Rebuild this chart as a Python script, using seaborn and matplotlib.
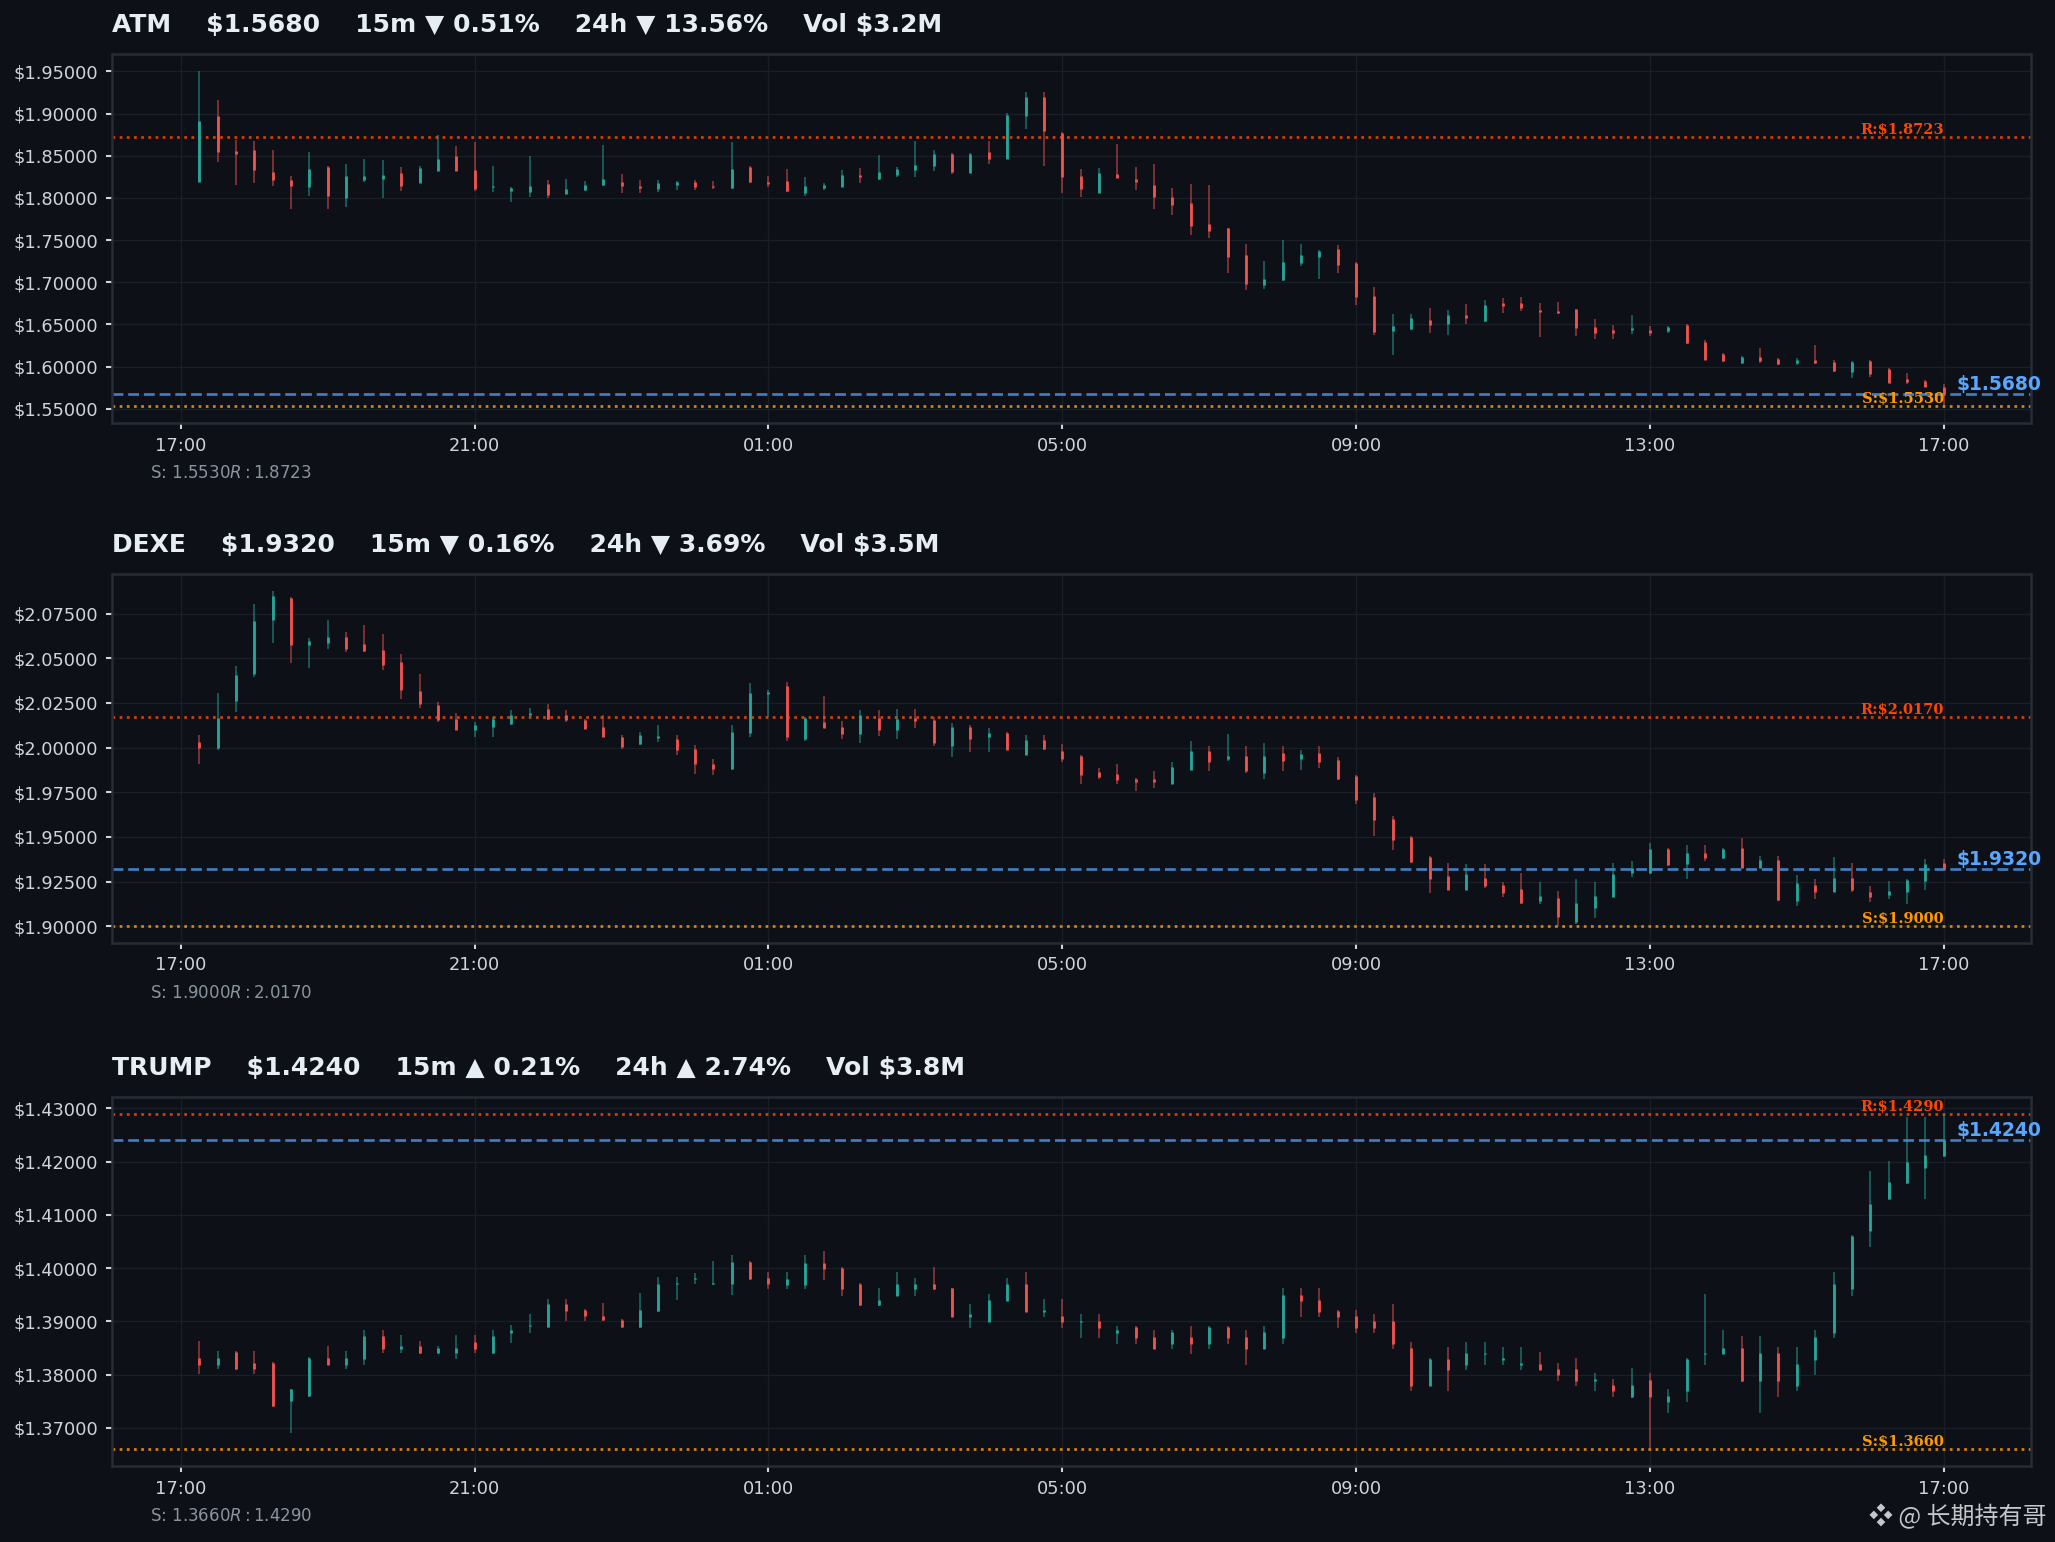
import numpy as np
import pandas as pd
import matplotlib
matplotlib.use("Agg")
import matplotlib.pyplot as plt
import matplotlib.dates as mdates
from matplotlib.ticker import FuncFormatter
import seaborn as sns

# ---------------- data ----------------
times = pd.date_range("2025-01-01 17:15", periods=96, freq="15min")

atm_open = [1.819, 1.8974, 1.8558, 1.857, 1.8309, 1.8214, 1.8135, 1.8372,
            1.8004, 1.8214, 1.823, 1.8297, 1.8179, 1.8321, 1.85, 1.8333,
            1.8135, 1.8084, 1.8072, 1.8167, 1.8052, 1.8095, 1.8151, 1.819,
            1.8143, 1.8103, 1.8159, 1.819, 1.8143, 1.8123, 1.8372, 1.819,
            1.8206, 1.8056, 1.8123, 1.8135, 1.8265, 1.823, 1.8277, 1.8336,
            1.8383, 1.8526, 1.8301, 1.855, 1.8466, 1.8976, 1.92, 1.8774,
            1.8265, 1.8064, 1.8289, 1.823, 1.8159, 1.8005, 1.7945, 1.7685,
            1.764, 1.7318, 1.6963, 1.7022, 1.7223, 1.7294, 1.7389, 1.7223,
            1.6832, 1.6418, 1.6442, 1.6548, 1.6501, 1.6608, 1.6536, 1.675,
            1.675, 1.6667, 1.6655, 1.6679, 1.6465, 1.643, 1.643, 1.643,
            1.6418, 1.6489, 1.6288, 1.6146, 1.6039, 1.611, 1.6087, 1.6039,
            1.6075, 1.6051, 1.5933, 1.6063, 1.5968, 1.585, 1.5826, 1.576]
atm_high = [1.9508, 1.9164, 1.8689, 1.8677, 1.857, 1.8262, 1.8546, 1.838,
            1.8404, 1.8463, 1.8452, 1.8368, 1.838, 1.8744, 1.8618, 1.8665,
            1.838, 1.8131, 1.85, 1.8214, 1.8226, 1.8202, 1.863, 1.8285,
            1.8214, 1.8214, 1.8202, 1.8214, 1.8202, 1.8665, 1.838, 1.8262,
            1.8348, 1.8253, 1.8182, 1.8336, 1.836, 1.8514, 1.8372, 1.868,
            1.8573, 1.8538, 1.8538, 1.868, 1.9011, 1.926, 1.926, 1.8786,
            1.8348, 1.836, 1.8644, 1.8372, 1.8407, 1.8123, 1.817, 1.8159,
            1.7645, 1.7448, 1.7247, 1.7496, 1.7448, 1.7377, 1.7436, 1.7235,
            1.6939, 1.6619, 1.6619, 1.669, 1.6667, 1.6738, 1.6785, 1.6809,
            1.6821, 1.675, 1.6762, 1.6682, 1.656, 1.6489, 1.6608, 1.6477,
            1.6477, 1.6501, 1.6311, 1.6158, 1.6122, 1.6217, 1.6098, 1.6098,
            1.6252, 1.6075, 1.6063, 1.6075, 1.598, 1.5921, 1.5838, 1.579]
atm_low = [1.819, 1.8428, 1.8159, 1.8171, 1.8143, 1.7874, 1.8024, 1.7874,
           1.7898, 1.8183, 1.8004, 1.8084, 1.8171, 1.8321, 1.832, 1.8084,
           1.8072, 1.7953, 1.8012, 1.80, 1.8048, 1.8084, 1.8143, 1.806,
           1.806, 1.8072, 1.8095, 1.8095, 1.8107, 1.8107, 1.8179, 1.8131,
           1.8068, 1.8028, 1.8092, 1.8135, 1.8182, 1.8218, 1.8253, 1.8253,
           1.8324, 1.8289, 1.8301, 1.8407, 1.8466, 1.8822, 1.8384, 1.8064,
           1.8005, 1.8064, 1.8238, 1.8088, 1.7863, 1.7792, 1.7555, 1.7519,
           1.7105, 1.6904, 1.6915, 1.7018, 1.7188, 1.7034, 1.7105, 1.6726,
           1.6371, 1.6134, 1.643, 1.6394, 1.6371, 1.6501, 1.6532, 1.6631,
           1.6655, 1.6347, 1.6619, 1.6359, 1.6323, 1.6323, 1.6383, 1.6359,
           1.6394, 1.6264, 1.6072, 1.606, 1.6027, 1.6039, 1.6015, 1.6015,
           1.6027, 1.5933, 1.5861, 1.5873, 1.58, 1.579, 1.5752, 1.553]
atm_close = [1.8914, 1.8546, 1.8515, 1.8333, 1.8214, 1.8143, 1.8345, 1.8024,
             1.8262, 1.8262, 1.8277, 1.8143, 1.836, 1.8463, 1.8325, 1.8103,
             1.8143, 1.8115, 1.8143, 1.8036, 1.8111, 1.8159, 1.8222, 1.8143,
             1.8123, 1.8171, 1.819, 1.8131, 1.8135, 1.8345, 1.819, 1.8167,
             1.808, 1.8147, 1.8159, 1.8277, 1.8253, 1.8313, 1.8348, 1.8395,
             1.8526, 1.8313, 1.8526, 1.8466, 1.8987, 1.92, 1.879, 1.8253,
             1.8111, 1.8301, 1.8242, 1.8194, 1.8005, 1.791, 1.7661, 1.7602,
             1.7294, 1.6975, 1.7034, 1.7235, 1.7318, 1.7365, 1.72, 1.682,
             1.6406, 1.6477, 1.6572, 1.6489, 1.6608, 1.6572, 1.6726, 1.6714,
             1.669, 1.6643, 1.6631, 1.6454, 1.6394, 1.6394, 1.6454, 1.6394,
             1.6465, 1.6276, 1.6075, 1.6063, 1.611, 1.6063, 1.6027, 1.6075,
             1.6039, 1.5944, 1.6051, 1.5909, 1.5802, 1.5814, 1.5755, 1.568]

dexe_open = [2.0031, 1.9998, 2.0263, 2.0414, 2.0716, 2.0839, 2.0577, 2.0588,
             2.0621, 2.0582, 2.0549, 2.0482, 2.032, 2.0241, 2.0163, 2.0096,
             2.0113, 2.0135, 2.018, 2.0219, 2.018, 2.0157, 2.0118, 2.0062,
             2.0023, 2.0057, 2.0051, 1.999, 1.9911, 1.9878, 2.008, 2.0303,
             2.0345, 2.0049, 2.0144, 2.0116, 2.0077, 2.0166, 2.0099, 2.0166,
             2.0155, 2.001, 2.0116, 2.006, 2.0082, 1.9959, 2.0043, 1.9982,
             1.9954, 1.9864, 1.9853, 1.9825, 1.9825, 1.9797, 1.9876, 1.9982,
             1.9937, 1.9954, 1.9859, 1.9971, 1.9937, 1.9971, 1.9931, 1.9842,
             1.9725, 1.9601, 1.9501, 1.9389, 1.9283, 1.9205, 1.9272, 1.9232,
             1.921, 1.9143, 1.916, 1.9026, 1.9104, 1.9165, 1.930, 1.930,
             1.9434, 1.935, 1.9411, 1.9383, 1.9439, 1.9328, 1.9372, 1.9143,
             1.9232, 1.9193, 1.9272, 1.9193, 1.9177, 1.9193, 1.9255, 1.9351]
dexe_high = [2.0068, 2.0308, 2.0459, 2.0806, 2.0879, 2.0845, 2.0616, 2.0716,
             2.0649, 2.0688, 2.0638, 2.0526, 2.0414, 2.0258, 2.0196, 2.0146,
             2.0174, 2.0213, 2.0224, 2.0247, 2.0208, 2.0163, 2.0185, 2.0068,
             2.0085, 2.0124, 2.0073, 2.0017, 1.9934, 2.0124, 2.0362, 2.0325,
             2.0368, 2.0172, 2.0289, 2.0149, 2.0211, 2.0211, 2.0217, 2.0217,
             2.0172, 2.0138, 2.0127, 2.011, 2.0088, 2.0071, 2.0071, 2.0021,
             1.9959, 1.9887, 1.9909, 1.9831, 1.987, 1.992, 2.0038, 2.001,
             2.0077, 2.001, 2.0026, 2.001, 1.9987, 2.001, 1.9948, 1.9848,
             1.9747, 1.9618, 1.9506, 1.9392, 1.9355, 1.935, 1.935, 1.9249,
             1.93, 1.9249, 1.9199, 1.9266, 1.9249, 1.9355, 1.9367, 1.9467,
             1.9439, 1.9456, 1.9456, 1.9439, 1.9495, 1.9395, 1.9395, 1.9288,
             1.9266, 1.9389, 1.9355, 1.9227, 1.9255, 1.9266, 1.9378, 1.9378]
dexe_low = [1.9906, 1.9986, 2.0202, 2.0398, 2.0588, 2.0476, 2.0448, 2.0554,
            2.0538, 2.0538, 2.0437, 2.0275, 2.0224, 2.0146, 2.0096, 2.0057,
            2.0062, 2.0124, 2.0174, 2.0157, 2.0146, 2.0105, 2.0057, 1.9995,
            2.0012, 2.0034, 1.9956, 1.9855, 1.9844, 1.9872, 2.006, 2.0174,
            2.0038, 2.0038, 2.0108, 2.0049, 2.0026, 2.0066, 2.0049, 2.011,
            2.001, 1.9948, 1.9976, 1.9976, 1.9985, 1.9957, 1.9987, 1.992,
            1.9797, 1.9825, 1.9797, 1.9758, 1.9775, 1.9795, 1.9874, 1.987,
            1.9926, 1.9859, 1.9825, 1.987, 1.9876, 1.9887, 1.982, 1.9685,
            1.9506, 1.9428, 1.9355, 1.9188, 1.9203, 1.9203, 1.9216, 1.9165,
            1.9126, 1.9126, 1.9001, 1.9014, 1.9048, 1.9163, 1.9277, 1.9294,
            1.9339, 1.9266, 1.9367, 1.9378, 1.9326, 1.9326, 1.9143, 1.9115,
            1.9154, 1.9191, 1.9193, 1.9137, 1.9154, 1.9126, 1.9205, 1.932]
dexe_close = [1.9998, 2.0167, 2.0409, 2.0711, 2.0851, 2.0577, 2.0599, 2.0621,
              2.0554, 2.0543, 2.0465, 2.0325, 2.0247, 2.0152, 2.01, 2.0124,
              2.0163, 2.0185, 2.0196, 2.0163, 2.0152, 2.0107, 2.0062, 2.0001,
              2.0068, 2.0062, 1.9984, 1.9906, 1.9883, 2.009, 2.0306, 2.0314,
              2.006, 2.0166, 2.011, 2.0077, 2.0183, 2.0099, 2.0161, 2.0149,
              2.0026, 2.0116, 2.0049, 2.0082, 1.9987, 2.0043, 1.9993, 1.9937,
              1.9848, 1.9836, 1.982, 1.9808, 1.9808, 1.9892, 1.9982, 1.992,
              1.9954, 1.987, 1.9954, 1.9926, 1.9965, 1.992, 1.9825, 1.9708,
              1.9596, 1.9484, 1.9361, 1.9266, 1.9205, 1.9294, 1.9227, 1.9188,
              1.9132, 1.9171, 1.9053, 1.9132, 1.9171, 1.9294, 1.9328, 1.9434,
              1.9344, 1.9411, 1.9383, 1.9434, 1.9328, 1.9372, 1.9149, 1.9244,
              1.9193, 1.9272, 1.9205, 1.9165, 1.9199, 1.926, 1.935, 1.932]

trump_open = [1.3831, 1.3819, 1.3842, 1.3821, 1.3821, 1.3751, 1.376, 1.3831,
              1.3819, 1.3829, 1.3872, 1.3849, 1.3853, 1.384, 1.384, 1.3861,
              1.384, 1.3879, 1.3891, 1.3889, 1.3932, 1.3921, 1.3911, 1.3902,
              1.3889, 1.3919, 1.397, 1.3979, 1.397, 1.397, 1.4011, 1.3981,
              1.3969, 1.3969, 1.401, 1.4001, 1.3971, 1.393, 1.3948, 1.396,
              1.3971, 1.3962, 1.3909, 1.3899, 1.3939, 1.3971, 1.3918, 1.3911,
              1.3899, 1.3901, 1.3879, 1.389, 1.3871, 1.3858, 1.3871, 1.3858,
              1.389, 1.3871, 1.3849, 1.3869, 1.395, 1.3941, 1.392, 1.3911,
              1.3901, 1.3901, 1.3851, 1.3779, 1.383, 1.3819, 1.3839, 1.3828,
              1.3819, 1.382, 1.3811, 1.3811, 1.3788, 1.3781, 1.3758, 1.379,
              1.3749, 1.377, 1.3839, 1.3839, 1.3851, 1.3788, 1.3841, 1.3779,
              1.3828, 1.3879, 1.396, 1.4069, 1.4129, 1.416, 1.4189, 1.421]
trump_high = [1.3863, 1.3844, 1.3844, 1.3844, 1.3823, 1.3774, 1.3833, 1.3853,
              1.3844, 1.3883, 1.3883, 1.3874, 1.3863, 1.3853, 1.3874, 1.3874,
              1.3883, 1.3893, 1.3913, 1.3943, 1.3943, 1.3923, 1.3934, 1.3904,
              1.3953, 1.3983, 1.3983, 1.399, 1.4013, 1.4024, 1.4013, 1.3993,
              1.3993, 1.4024, 1.4033, 1.4003, 1.3973, 1.3963, 1.3993, 1.3982,
              1.4003, 1.3963, 1.3933, 1.3952, 1.3982, 1.3993, 1.3943, 1.3943,
              1.3913, 1.3913, 1.3892, 1.3892, 1.3883, 1.3883, 1.3892, 1.3892,
              1.3892, 1.3883, 1.3892, 1.3963, 1.3963, 1.3963, 1.3922, 1.3922,
              1.3913, 1.3933, 1.3862, 1.3832, 1.3852, 1.3862, 1.3862, 1.3852,
              1.3852, 1.3843, 1.3822, 1.3832, 1.3804, 1.3792, 1.3813, 1.3804,
              1.3773, 1.3832, 1.3952, 1.3883, 1.3873, 1.3873, 1.3852, 1.3852,
              1.3883, 1.3993, 1.4063, 1.4183, 1.4202, 1.4283, 1.4283, 1.429]
trump_low = [1.3801, 1.381, 1.3809, 1.3801, 1.3739, 1.369, 1.3758, 1.3818,
             1.381, 1.3819, 1.384, 1.384, 1.3839, 1.3839, 1.3829, 1.384,
             1.3839, 1.3859, 1.3879, 1.3888, 1.39, 1.39, 1.39, 1.3888,
             1.3888, 1.3918, 1.394, 1.397, 1.3969, 1.3949, 1.3978, 1.396,
             1.396, 1.396, 1.3978, 1.3948, 1.3929, 1.3929, 1.3947, 1.3948,
             1.3959, 1.3908, 1.3888, 1.3898, 1.3938, 1.3917, 1.3909, 1.3888,
             1.3869, 1.3869, 1.3858, 1.3858, 1.3848, 1.3849, 1.3839, 1.3849,
             1.3858, 1.3819, 1.3848, 1.3858, 1.3909, 1.3909, 1.3888, 1.3879,
             1.3879, 1.3849, 1.377, 1.3778, 1.377, 1.3809, 1.3819, 1.3819,
             1.3809, 1.3808, 1.3788, 1.3779, 1.377, 1.3758, 1.3757, 1.366,
             1.3728, 1.3749, 1.3819, 1.3838, 1.3787, 1.3728, 1.3758, 1.377,
             1.38, 1.3869, 1.3948, 1.4039, 1.4128, 1.4159, 1.4129, 1.4208]
trump_close = [1.3819, 1.3831, 1.381, 1.381, 1.3741, 1.3773, 1.3831, 1.3819,
               1.3831, 1.3872, 1.3849, 1.3853, 1.384, 1.3851, 1.3851, 1.3849,
               1.3872, 1.3883, 1.3893, 1.3932, 1.3919, 1.391, 1.3902, 1.3889,
               1.3921, 1.3971, 1.3973, 1.3981, 1.3973, 1.4011, 1.3979, 1.397,
               1.398, 1.401, 1.3999, 1.396, 1.393, 1.3941, 1.3971, 1.3971,
               1.396, 1.3909, 1.3913, 1.3941, 1.3971, 1.3918, 1.3922, 1.3899,
               1.3901, 1.3888, 1.3883, 1.3869, 1.3849, 1.3881, 1.3858, 1.389,
               1.3869, 1.3849, 1.3881, 1.395, 1.3939, 1.3918, 1.3909, 1.3888,
               1.3888, 1.3858, 1.3779, 1.383, 1.3809, 1.3841, 1.3841, 1.3832,
               1.3822, 1.3809, 1.38, 1.3788, 1.3792, 1.377, 1.3781, 1.3758,
               1.376, 1.383, 1.3841, 1.3851, 1.3788, 1.3841, 1.3788, 1.382,
               1.3871, 1.3971, 1.4061, 1.4121, 1.4161, 1.42, 1.4212, 1.424]

symbols = ["ATM", "DEXE", "TRUMP"]
headers = ["ATM    $1.5680    15m \u25bc 0.51%    24h \u25bc 13.56%    Vol $3.2M",
           "DEXE    $1.9320    15m \u25bc 0.16%    24h \u25bc 3.69%    Vol $3.5M",
           "TRUMP    $1.4240    15m \u25b2 0.21%    24h \u25b2 2.74%    Vol $3.8M"]
prices = [1.5680, 1.9320, 1.4240]
supports = [1.5530, 1.9000, 1.3660]
resistances = [1.8723, 2.0170, 1.4290]
ohlc = [(atm_open, atm_high, atm_low, atm_close),
        (dexe_open, dexe_high, dexe_low, dexe_close),
        (trump_open, trump_high, trump_low, trump_close)]
watermark = "\u2756 @ 长期持有哥"

# ---------------- style ----------------
BG = "#0d1117"
GREEN = "#26a69a"
RED = "#ef5350"
sns.set_theme(style="dark", rc={
    "figure.facecolor": BG, "axes.facecolor": BG, "savefig.facecolor": BG,
    "axes.edgecolor": "#262c36", "text.color": "#e6edf3",
    "xtick.color": "#d0d4da", "ytick.color": "#d0d4da",
})
plt.rcParams["font.family"] = ["DejaVu Sans", "Noto Sans CJK SC"]

fig = plt.figure(figsize=(13.7, 10.28), dpi=150)
fig.patch.set_facecolor(BG)

bottoms = [0.7257, 0.3885, 0.0493]
x = mdates.date2num(times)

for i in range(3):
    ax = fig.add_axes([0.0545, bottoms[i], 0.9338, 0.2393])
    ax.set_facecolor(BG)
    o, h, l, c = (np.asarray(a, dtype=float) for a in ohlc[i])
    up = c >= o
    cols = np.where(up, GREEN, RED)
    span = h.max() - l.min()
    lo = np.minimum(o, c)
    hi = np.maximum(o, c)
    mid = (lo + hi) / 2
    minb = span * 0.004
    blo = np.where(hi - lo < minb, mid - minb / 2, lo)
    bhi = np.where(hi - lo < minb, mid + minb / 2, hi)

    ax.vlines(x, l, h, colors=cols, linewidth=0.75, alpha=0.6, zorder=3)
    ax.vlines(x, blo, bhi, colors=cols, linewidth=1.35, alpha=1.0, zorder=4)
    ax.xaxis_date()

    ax.axhline(resistances[i], color="#ff4500", ls=":", lw=1.3, alpha=0.85, zorder=2)
    ax.axhline(supports[i], color="#ff9800", ls=":", lw=1.3, alpha=0.85, zorder=2)
    ax.axhline(prices[i], color="#4a90e2", ls=(0, (4, 1.8)), lw=1.3, alpha=0.85, zorder=2)

    ax.text(x[-1], resistances[i], f"R:${resistances[i]:.4f}", ha="right", va="bottom",
            color="#ff4500", fontsize=7, fontweight="bold", family="DejaVu Serif",
            parse_math=False, zorder=5)
    ax.text(x[-1], supports[i], f"S:${supports[i]:.4f}", ha="right", va="bottom",
            color="#ff9800", fontsize=7, fontweight="bold", family="DejaVu Serif",
            parse_math=False, zorder=5)
    ax.text(x[-1] + 0.18 / 24, prices[i], f"${prices[i]:.4f}", ha="left", va="bottom",
            color="#58a6ff", fontsize=9, fontweight="bold", parse_math=False, zorder=5)

    ax.text(0, 1 + 29 / 369, headers[i], transform=ax.transAxes, fontsize=12,
            fontweight="bold", color="#e6edf3", va="center", ha="left", parse_math=False)
    ax.text(0.02, -0.135, f"S: ${supports[i]:.4f}  R: ${resistances[i]:.4f}",
            transform=ax.transAxes, fontsize=8, color="#8b949e", va="center", ha="left")

    ax.xaxis.set_major_locator(mdates.HourLocator(byhour=[1, 5, 9, 13, 17, 21]))
    ax.xaxis.set_major_formatter(mdates.DateFormatter("%H:%M"))
    ax.yaxis.set_major_formatter(FuncFormatter(lambda v, p: f"${v:.5f}"))
    ax.margins(x=0.05, y=0.05)
    ax.tick_params(axis="both", which="major", bottom=True, left=True, length=3,
                   width=1, color="#d0d4da", labelcolor="#d0d4da", labelsize=8.5)
    ax.grid(True, color="#1a1f27", linewidth=0.6)
    for s in ax.spines.values():
        s.set_visible(True)
        s.set_color("#262c36")
        s.set_linewidth(1.2)

fig.text(0.996, 0.0165, watermark, ha="right", va="center", fontsize=11.5,
         color="#c4c8cc", family=["Noto Sans CJK SC", "DejaVu Sans"])

fig.savefig("out.png", dpi=150, facecolor=BG)
